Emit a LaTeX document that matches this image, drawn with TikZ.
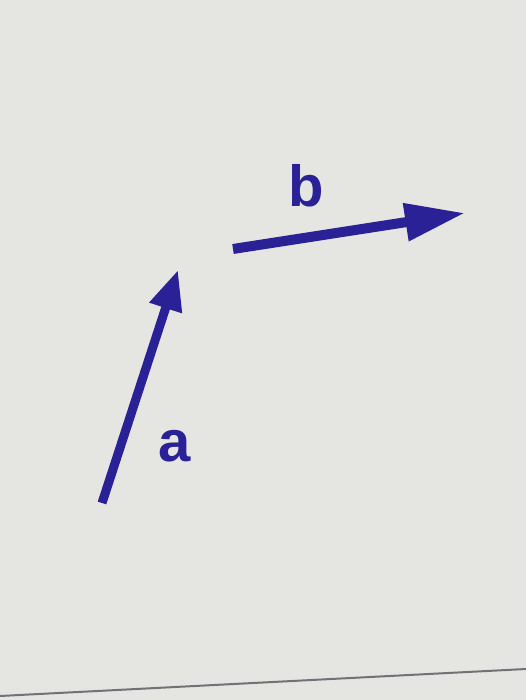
\documentclass[tikz,border=0pt]{standalone}
\usepackage{fontspec}
\setmainfont{Liberation Sans}
\usetikzlibrary{arrows.meta}
\definecolor{vecblue}{HTML}{2B2196}
\definecolor{paper}{HTML}{E5E5E2}
\definecolor{edge}{HTML}{707276}
\tikzset{
  vec/.style={draw=vecblue, line width=9pt, line cap=butt},
  lbl/.style={text=vecblue, font=\fontsize{58}{58}\selectfont\bfseries, inner sep=0pt},
}
\begin{document}
\begin{tikzpicture}[x=1pt,y=1pt]
  \fill[paper] (0,0) rectangle (526,700);
  \useasboundingbox (0,0) rectangle (526,700);
  % a vector
  \coordinate (a0) at (102,197);
  \coordinate (a1) at (178,430);
  \draw[vec, -{Triangle[length=40pt,width=32pt]}] (a0) -- (a1);
  \node[lbl] (la) at (175,254) {a};
  % b vector
  \coordinate (b0) at (233,451);
  \coordinate (b1) at (465,487);
  \draw[vec, line width=10pt, -{Triangle[length=60pt,width=36pt]}] (b0) -- (b1);
  \node[lbl] (lb) at (306,514) {b};
  % bottom edge line
  \coordinate (e0) at (0,4);
  \coordinate (e1) at (526,31);
  \draw[edge, line width=2pt] (e0) -- (e1);
\end{tikzpicture}
\end{document}
